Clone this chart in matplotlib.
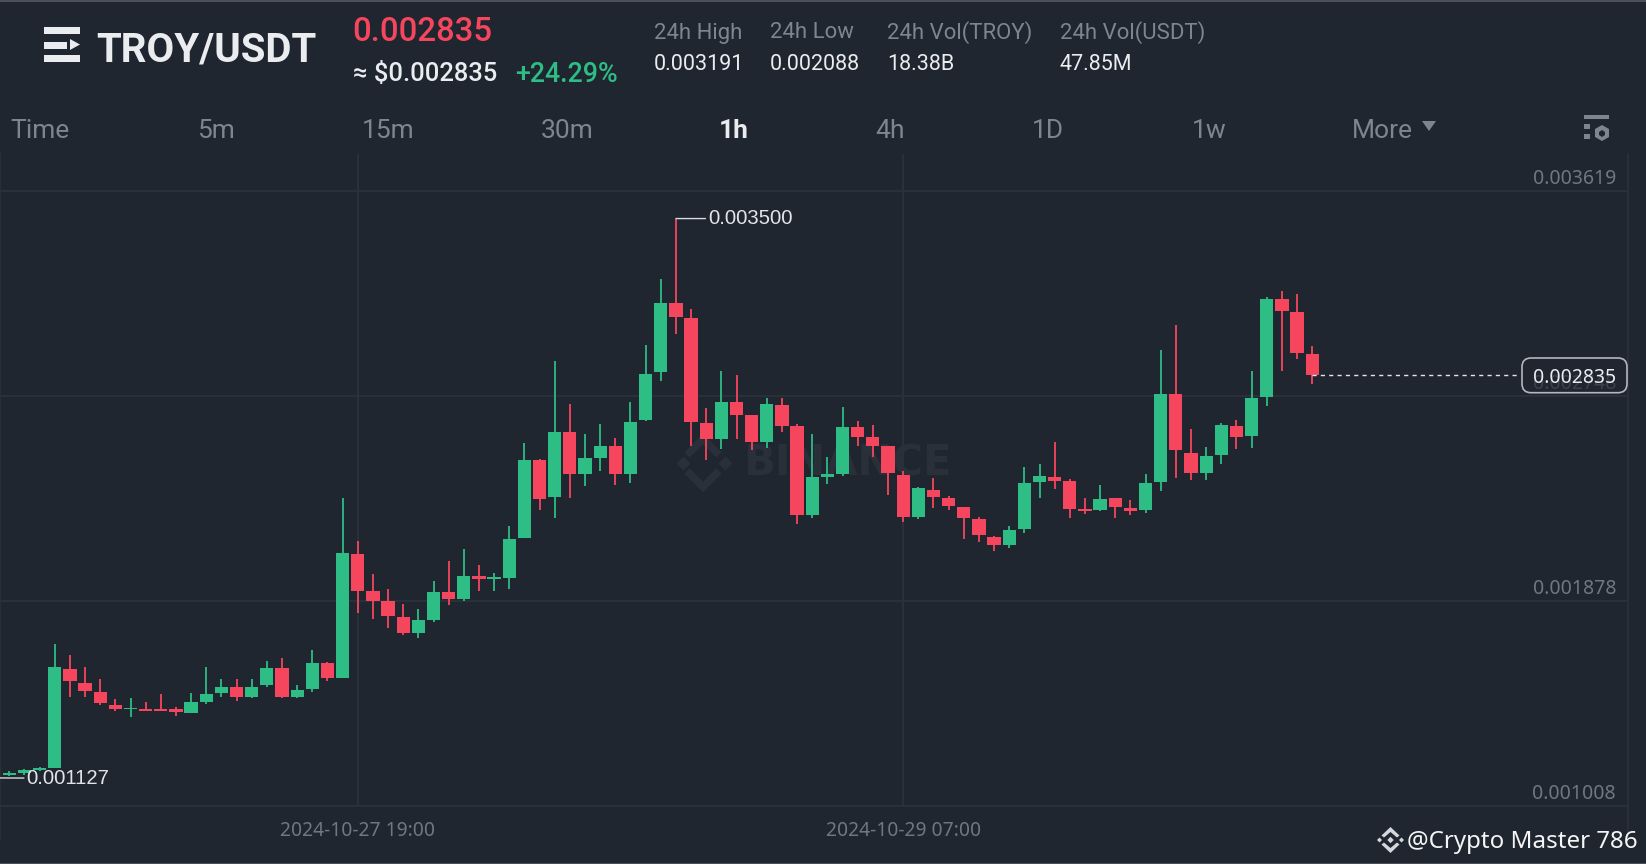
import matplotlib
matplotlib.use("Agg")
import matplotlib.pyplot as plt
from matplotlib.patches import Polygon, FancyBboxPatch

# ---- data (prices in millionths of a USDT) ----
UNIT = 1e-6
open_p = [1139.5,1146.5,1160.7,1170.6,1590.6,1531.2,1491.6,1437.8,1419.5,1419.5,1418.0,1418.0,1403.9,1449.1,1485.9,1514.2,1469.0,1519.9,1592.0,1471.8,1504.3,1614.6,1552.4,
 2077.0,1921.4,1876.2,1808.3,1743.3,1798.4,1915.8,1884.7,1982.3,1970.9,1975.2,2144.9,2477.2,2317.4,2594.5,2416.3,2484.2,2533.7,2416.3,2645.4,2847.6,3140.4,3079.5,2634.1,2566.3,2721.8,2665.2,2550.7,2709.1,2620.0,2243.9,2402.2,2416.3,2617.2,2571.9,2533.7,2413.5,2232.6,2349.9,2316.0,2277.8,2226.9,2149.1,2115.2,
 2181.7,2382.5,2405.1,2385.3,2266.5,2265.1,2313.2,2273.6,2262.3,2381.1,2757.2,2506.9,2422.0,2495.6,2621.4,2576.2,2743.0,3158.8,3105.0,2925.5]
close_p = [1149.4,1160.7,1167.7,1596.2,1536.8,1495.8,1443.5,1420.9,1423.7,1412.4,1411.0,1405.3,1447.7,1481.7,1511.4,1470.4,1514.2,1592.0,1471.8,1501.5,1614.6,1552.4,2081.2,
 1921.4,1877.6,1812.6,1740.5,1797.0,1915.8,1884.7,1982.3,1970.9,1978.0,2142.0,2477.2,2311.7,2593.1,2416.3,2482.8,2536.6,2416.3,2638.4,2842.0,3140.4,3081.0,2635.5,2566.3,2721.8,2668.1,2552.1,2714.7,2621.4,2243.9,2405.0,2416.3,2614.3,2573.3,2535.2,2419.2,2235.4,2355.5,2318.8,2280.6,2231.1,2156.2,2116.6,2178.8,
 2379.7,2407.9,2386.7,2267.9,2260.9,2308.9,2277.8,2259.4,2378.2,2757.2,2516.8,2420.6,2492.8,2622.9,2571.9,2737.4,3157.4,3106.5,2928.3,2835.0]
high_p = [1156.4,1163.5,1173.4,1695.2,1648.5,1597.6,1546.7,1463.3,1467.5,1449.2,1483.1,1429.4,1485.9,1597.6,1548.1,1545.3,1545.3,1623.1,1637.2,1519.9,1668.3,1618.8,2316.0,
 2132.1,1990.7,1927.1,1864.9,1842.3,1963.9,2045.9,2096.8,2030.3,1997.8,2195.8,2547.9,2481.4,2894.3,2713.3,2586.0,2628.5,2567.6,2721.8,2965.0,3245.0,3500.0,3114.9,2696.3,2851.9,2836.3,2665.2,2740.2,2737.3,2627.1,2586.0,2488.5,2699.2,2642.6,2622.8,2533.7,2429.1,2362.6,2399.4,2321.6,2277.8,2232.6,2154.8,2197.2,
 2444.7,2457.4,2552.1,2396.6,2313.2,2368.3,2316.0,2306.1,2417.8,2942.4,3048.5,2605.9,2529.5,2634.2,2645.5,2854.8,3165.8,3191.0,3180.0,2958.0]
low_p = [1135.3,1140.9,1157.9,1170.6,1469.0,1469.0,1435.0,1409.6,1387.0,1409.6,1409.6,1391.2,1401.1,1442.1,1469.0,1452.0,1467.5,1511.4,1466.1,1467.5,1490.2,1536.8,1549.6,
 1825.3,1799.8,1761.7,1732.0,1720.7,1789.9,1859.2,1879.0,1921.4,1921.4,1929.9,2144.9,2263.6,2228.3,2315.9,2366.9,2430.5,2369.7,2379.6,2639.8,2809.5,3011.7,2536.6,2475.8,2521.0,2563.4,2518.2,2525.2,2596.0,2202.8,2231.1,2375.4,2409.3,2536.6,2487.1,2328.7,2214.2,2224.1,2273.5,2265.1,2140.6,2127.9,2088.3,2103.9,
 2167.5,2313.2,2354.2,2229.8,2248.1,2260.9,2231.2,2242.5,2249.6,2345.7,2399.4,2389.5,2389.5,2460.2,2522.5,2525.3,2704.9,2853.3,2902.8,2796.8]

y_ticks = [0.001008, 0.001878, 0.002748, 0.003619]
y_labels = ["0.001008", "0.001878", "0.002748", "0.003619"]
x_tick_idx = [23, 59]
x_labels = ["2024-10-27 19:00", "2024-10-29 07:00"]
last_price = 0.002835
max_price = 0.003500
min_price = 0.001127

header_stats = [("24h High", "0.003191", 653.5), ("24h Low", "0.002088", 770),
                ("24h Vol(TROY)", "18.38B", 887), ("24h Vol(USDT)", "47.85M", 1060)]
intervals = [("Time", 10.5), ("5m", 197), ("15m", 362), ("30m", 540.5), ("1h", 719),
             ("4h", 875.5), ("1D", 1031.5), ("1w", 1192), ("More", 1352)]

# ---- style ----
BG = "#1F2630"; GRID = "#2C323C"; UP = "#2EBD85"; DOWN = "#F6465D"
LIGHT = "#EAECEF"; MUTED = "#7D8591"; AXTXT = "#6F7782"; WM = "#2A3039"
W, H = 1646, 864

fig = plt.figure(figsize=(W/100, H/100), dpi=100, facecolor=BG)
def fx(x): return x / W
def fy(y): return 1 - y / H
def T(x, y, s, **kw):
    kw.setdefault("va", "center"); kw.setdefault("family", "Roboto")
    return fig.text(fx(x), fy(y), s, **kw)
def poly(pts, color, zorder=5):
    fig.add_artist(Polygon([(fx(a), fy(b)) for a, b in pts], closed=True, fc=color, ec="none",
                           transform=fig.transFigure, zorder=zorder))
def rect(x0, y0, x1, y1, color, zorder=5):
    poly([(x0, y0), (x1, y0), (x1, y1), (x0, y1)], color, zorder)

# chart axes: price scale fixed by the gridlines
top_px, bot_px, right_px = 154, 840, 1628
px_per_price = (806 - 190.5) / (0.003619 - 0.001008)
spacing = 15.15; x0_px = 9.3
ax = fig.add_axes([0, 1 - bot_px / H, right_px / W, (bot_px - top_px) / H], facecolor=BG)
ax.set_xlim((0 - x0_px) / spacing, (right_px - x0_px) / spacing)
ax.set_ylim(0.001008 - (bot_px - 806) / px_per_price, 0.003619 + (190.5 - top_px) / px_per_price)
for s in ("top", "bottom"):
    ax.spines[s].set_visible(False)
for s in ("left", "right"):
    ax.spines[s].set_color(GRID); ax.spines[s].set_linewidth(1.2)
ax.set_yticks(y_ticks); ax.set_yticklabels([])
ax.set_xticks(x_tick_idx); ax.set_xticklabels([])
ax.tick_params(length=0)
ax.grid(True, color=GRID, lw=1.3, zorder=0)
ax.set_axisbelow(True)
for gl in ax.get_xgridlines():
    gl.set_visible(False)
ax.vlines(x_tick_idx, 0.001008, ax.get_ylim()[1], color=GRID, lw=1.3, zorder=0)

# watermark behind the candles
ax.text((743 - x0_px) / spacing, 0.001008 + (806 - 464) / px_per_price, "BINANCE", color=WM,
        family="DejaVu Sans", weight="bold", fontsize=30, va="center", ha="left", zorder=1)
wm_cx, wm_cy = 703, 463
k = dict(color=WM, lw=5.5, solid_capstyle="butt", solid_joinstyle="miter", zorder=0.5)
for sign in (-1, 1):
    xs = [(wm_cx - 16 - x0_px) / spacing, (wm_cx - x0_px) / spacing, (wm_cx + 16 - x0_px) / spacing]
    ys = [0.001008 + (806 - (wm_cy + sign * v)) / px_per_price for v in (8, 24, 8)]
    ax.plot(xs, ys, **k)
a, b = (wm_cx - 20 - x0_px) / spacing, 0.001008 + (806 - wm_cy) / px_per_price
ax.plot([a, (wm_cx + 22 - x0_px) / spacing], [b, b], ls="none", marker="D", ms=6.5, color=WM, zorder=0.5)

# candles
for i, (o, h, l, c) in enumerate(zip(open_p, high_p, low_p, close_p)):
    col = UP if c >= o else DOWN
    ax.vlines(i, l * UNIT, h * UNIT, color=col, lw=1.3, zorder=3)
    ax.bar(i, abs(c - o) * UNIT, bottom=min(o, c) * UNIT, width=0.875, color=col, lw=0, zorder=3)

# y labels above gridlines, x labels below
for v, s in zip(y_ticks, y_labels):
    ax.annotate(s, (1, v), xycoords=("axes fraction", "data"), xytext=(-8.6, 8.3), textcoords="offset points",
                color=AXTXT, fontsize=14, family="Noto Sans", ha="right", va="center",
                alpha=0.35 if s == "0.002748" else 1, zorder=2)
for i, s in zip(x_tick_idx, x_labels):
    T(x0_px + i * spacing, 830.5, s, color=AXTXT, fontsize=13.85, family="Noto Sans", ha="center")

# extreme and last price markers
ax.annotate(f"{max_price:.6f}", (44, max_price), xytext=(23.3, 0.0), textcoords="offset points",
            color="#E2E4E8", fontsize=14.6, family="Liberation Sans", va="center",
            arrowprops=dict(arrowstyle="-", color="#D8DADD", lw=1, shrinkA=0, shrinkB=0))
ax.annotate(f"{min_price:.6f}", (0, min_price), xycoords=("axes fraction", "data"), xytext=(19.2, -0.2),
            textcoords="offset points", color="#E2E4E8", fontsize=14.6, family="Liberation Sans", va="center",
            arrowprops=dict(arrowstyle="-", color="#D8DADD", lw=1, shrinkA=0, shrinkB=0))
ax.plot([86, (1518 - x0_px) / spacing], [last_price, last_price], color="#E2E4E8", lw=1, ls=(0, (3, 3)), zorder=3)
box = FancyBboxPatch((1522, H - 392.7), 105, 34.7, boxstyle="round,pad=0,rounding_size=9", transform=None,
                     fc="none", ec="#B4B7BC", lw=1.2, zorder=6)
fig.add_artist(box)
T(1574.5, 378, f"{last_price:.6f}", color=LIGHT, fontsize=14, family="Noto Sans", ha="center", zorder=7)

# ---- header ----
T(96.5, 51, "TROY/USDT", color=LIGHT, fontsize=29, weight="bold")
T(352.5, 32, "0.002835", color=DOWN, fontsize=23.7, weight="medium")
T(353, 74, "≈ $0.002835", color=LIGHT, fontsize=18.4, weight="medium")
T(515.5, 74.5, "+24.29%", color=UP, fontsize=19.3, weight="medium")
for lab, val, x in header_stats:
    T(x, 33, lab, color=MUTED, fontsize=15.9)
    T(x, 64.5, val, color=LIGHT, fontsize=15.5)
for s, x in intervals:
    T(x, 131, s, color=LIGHT if s == "1h" else MUTED, fontsize=19, weight="bold" if s == "1h" else "normal")

# menu icon
rect(44, 27, 80, 34, LIGHT); rect(44, 42, 67, 49, LIGHT); rect(44, 55, 80, 62, LIGHT)
poly([(70, 39), (80, 44.5), (70, 50)], LIGHT)
# dropdown triangle
poly([(1422, 121), (1436, 121), (1429, 131)], MUTED)
# settings icon
rect(1584, 115, 1609, 118.5, MUTED); rect(1584, 124, 1590, 128.5, MUTED); rect(1584, 134, 1590, 138.5, MUTED)
poly([(1602, 125), (1609, 129), (1609, 137), (1602, 141), (1595, 137), (1595, 129)], MUTED)
poly([(1602, 130), (1605, 132), (1605, 135), (1602, 137), (1599, 135), (1599, 132)], BG, zorder=6)

# credit
cx, cy = 1390.5, 840; c = "#D5D7DB"
for a, r in [(cx - 11, 2.5), (cx + 11, 2.5), (cx, 3.2)]:
    poly([(a - r, cy), (a, cy - r), (a + r, cy), (a, cy + r)], c, zorder=8)
for sign in (-1, 1):
    poly([(cx - 9, cy + sign * 4.5), (cx, cy + sign * 13), (cx + 9, cy + sign * 4.5), (cx + 6.5, cy + sign * 2.5),
          (cx, cy + sign * 8), (cx - 6.5, cy + sign * 2.5)], c, zorder=8)
T(1407, 842, "@Crypto Master 786", color="#F5F5F5", fontsize=17.35, family="Noto Sans", zorder=8)

# frame rows at the very top and bottom of the image
rect(0, 0, W, 1.5, "#4A4F58", zorder=9); rect(0, H - 1.5, W, H, "#4A4F58", zorder=9)

fig.savefig("out.png", dpi=100, facecolor=BG)
